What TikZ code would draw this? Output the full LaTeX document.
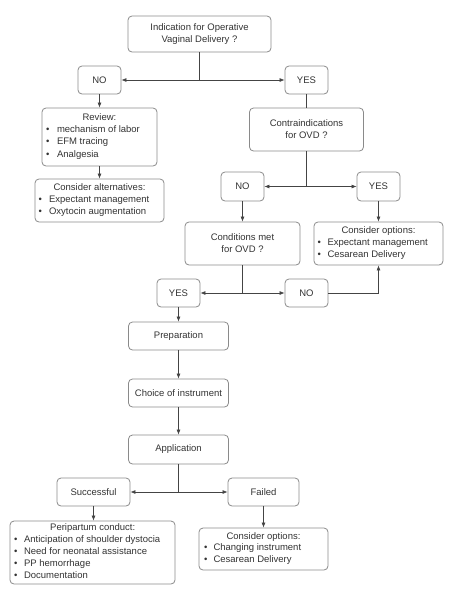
\documentclass[tikz,border=0pt]{standalone}
\usepackage{fontspec}
\setmainfont{Liberation Sans}
\usetikzlibrary{arrows.meta}
\definecolor{boxgray}{HTML}{8A8A8A}
\definecolor{textgray}{HTML}{333333}
\definecolor{linegray}{HTML}{444444}
\begin{document}
\begin{tikzpicture}[x=1pt,y=-1pt,
  box/.style={draw=boxgray, rounded corners=4pt, line width=0.8pt, inner sep=0pt, text=textgray,
    font=\fontsize{9.5}{12}\selectfont, align=center},
  txt/.style={text=textgray, font=\fontsize{9.5}{12}\selectfont, inner sep=0pt},
  ln/.style={draw=linegray, line width=0.7pt},
  arr/.style={draw=linegray, line width=0.7pt, -{Latex[length=5pt,width=4pt]}}]
\useasboundingbox (0,0) rectangle (474,592);
% boxes
\node[box, minimum width=143, minimum height=36] (top) at (199.5,34) {Indication for Operative\\Vaginal Delivery ?};
\node[box, minimum width=43, minimum height=28] (no1) at (99.5,80) {NO};
\node[box, minimum width=43, minimum height=28] (yes1) at (306.5,80) {YES};
\node[box, minimum width=115, minimum height=58] (review) at (99.5,137) {};
\node[box, minimum width=129, minimum height=43] (alt) at (99.5,200.5) {};
\node[box, minimum width=114, minimum height=43] (contra) at (306.5,129.5) {Contraindications\\for OVD ?};
\node[box, minimum width=43, minimum height=29] (no2) at (242.5,186.5) {NO};
\node[box, minimum width=43, minimum height=29] (yes2) at (378.5,186.5) {YES};
\node[box, minimum width=115, minimum height=43] (cond) at (242.5,243.5) {Conditions met\\for OVD ?};
\node[box, minimum width=129, minimum height=43] (opt1) at (378.5,243.5) {};
\node[box, minimum width=43, minimum height=28] (yes3) at (178.5,293) {YES};
\node[box, minimum width=43, minimum height=28] (no3) at (306.5,293) {NO};
\node[box, minimum width=100, minimum height=28] (prep) at (178.5,336) {Preparation};
\node[box, minimum width=100, minimum height=28] (choice) at (178.5,393) {Choice of instrument};
\node[box, minimum width=100, minimum height=29] (appl) at (178.5,449.5) {Application};
\node[box, minimum width=73, minimum height=28] (succ) at (93.5,492) {Successful};
\node[box, minimum width=71, minimum height=28] (fail) at (263.5,492) {Failed};
\node[box, minimum width=165, minimum height=63] (peri) at (92.5,552.5) {};
\node[box, minimum width=129, minimum height=42] (opt2) at (263.5,549) {};
% texts in list boxes
\node[txt, anchor=mid] (reviewh) at (99.5,118.3) {Review:};
\node[txt, anchor=mid west] (reviewa) at (46,130) {\textbullet\hspace{7.5pt}mechanism of labor};
\node[txt, anchor=mid west] (reviewb) at (46,142.3) {\textbullet\hspace{7.5pt}EFM tracing};
\node[txt, anchor=mid west] (reviewc) at (46,154.7) {\textbullet\hspace{7.5pt}Analgesia};
\node[txt, anchor=mid] (alth) at (99.5,188.3) {Consider alternatives:};
\node[txt, anchor=mid west] (alta) at (38.5,200.3) {\textbullet\hspace{7pt}Expectant management};
\node[txt, anchor=mid west] (altb) at (38.5,212.3) {\textbullet\hspace{7pt}Oxytocin augmentation};
\node[txt, anchor=mid] (opt1h) at (378.5,231) {Consider options:};
\node[txt, anchor=mid west] (opt1a) at (317.5,242.7) {\textbullet\hspace{6.5pt}Expectant management};
\node[txt, anchor=mid west] (opt1b) at (317.5,255) {\textbullet\hspace{6.5pt}Cesarean Delivery};
\node[txt, anchor=mid] (perih) at (92.7,528.3) {Peripartum conduct:};
\node[txt, anchor=mid west] (peria) at (14,540.3) {\textbullet\hspace{6.5pt}Anticipation of shoulder dystocia};
\node[txt, anchor=mid west] (perib) at (14,552.3) {\textbullet\hspace{6.5pt}Need for neonatal assistance};
\node[txt, anchor=mid west] (peric) at (14,564.3) {\textbullet\hspace{6.5pt}PP hemorrhage};
\node[txt, anchor=mid west] (perid) at (14,576.3) {\textbullet\hspace{6.5pt}Documentation};
\node[txt, anchor=mid] (opt2h) at (263.5,536.7) {Consider options:};
\node[txt, anchor=mid west] (opt2a) at (204,548.3) {\textbullet\hspace{6pt}Changing instrument};
\node[txt, anchor=mid west] (opt2b) at (204,560.3) {\textbullet\hspace{6pt}Cesarean Delivery};
% junctions
\coordinate (j1) at (top.south |- no1);
\coordinate (j2) at (contra.south |- no2);
\coordinate (j3) at (cond.south |- yes3);
\coordinate (j4) at (appl.south |- succ);
\coordinate (c1) at (opt1.south |- no3);
% connectors
\draw[ln] (top.south) -- (j1);
\draw[arr] (j1) -- (no1.east);
\draw[arr] (j1) -- (yes1.west);
\draw[arr] (no1.south) -- (review.north);
\draw[arr] (review.south) -- (alt.north);
\draw[ln] (yes1.south) -- (contra.north);
\draw[ln] (contra.south) -- (j2);
\draw[arr] (j2) -- (no2.east);
\draw[arr] (j2) -- (yes2.west);
\draw[arr] (no2.south) -- (cond.north);
\draw[arr] (yes2.south) -- (opt1.north);
\draw[ln] (cond.south) -- (j3);
\draw[arr] (j3) -- (yes3.east);
\draw[arr] (j3) -- (no3.west);
\draw[arr] (no3.east) -- (c1) -- (opt1.south);
\draw[arr] (yes3.south) -- (prep.north);
\draw[arr] (prep.south) -- (choice.north);
\draw[arr] (choice.south) -- (appl.north);
\draw[ln] (appl.south) -- (j4);
\draw[arr] (j4) -- (succ.east);
\draw[arr] (j4) -- (fail.west);
\draw[arr] (succ.south) -- (succ.south |- peri.north);
\draw[arr] (fail.south) -- (opt2.north);
\end{tikzpicture}
\end{document}
